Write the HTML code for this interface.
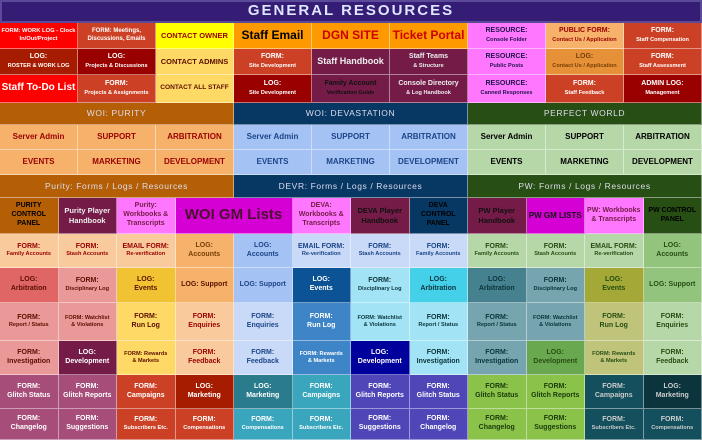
<!DOCTYPE html>
<html><head><meta charset="utf-8"><style>
body{margin:0;width:702px;height:440px;overflow:hidden;background:#3b2a6e;font-family:"Liberation Sans",sans-serif;}
.c{position:absolute;display:flex;align-items:center;justify-content:center;flex-direction:column;text-align:center;box-sizing:border-box;border-right:1px solid rgba(255,255,255,.45);border-bottom:1px solid rgba(255,255,255,.45);font-weight:bold;font-size:7px;line-height:1.25;color:#fff;overflow:hidden}
.c small{font-size:5.6px}
.h{font-weight:normal;color:#dde;font-size:8.5px;letter-spacing:.6px}
.w{width:78px}.t1{top:23px;height:26px}.t2{top:49px;height:26px}.t3{top:75px;height:28px}
.g{width:58.5px}
.r0{top:198px;height:36px}.r1{top:234px;height:34px}.r2{top:268px;height:35px}.r3{top:303px;height:38px}.r4{top:341px;height:34px}.r5{top:375px;height:34px}.r6{top:409px;height:31px}
</style></head><body>
<div class="c" style="left:0;top:0;width:702px;height:23px;background:#351c75;border:2px solid #5b4a9a;font-size:15px;color:#dfe6ff;letter-spacing:2px;font-weight:bold">GENERAL RESOURCES</div>

<div class="c w t1" style="left:0;background:#ff0000;font-size:5.8px"><span>FORM: WORK LOG - Clock<br>In/Out/Project</span></div>
<div class="c w t2" style="left:0;background:#a61c00"><span>LOG:<br><small>ROSTER &amp; WORK LOG</small></span></div>
<div class="c w t3" style="left:0;background:#ff0000;font-size:10px">Staff To-Do List</div>
<div class="c w t1" style="left:78px;background:#cc4125;font-size:6px">FORM: Meetings,<br>Discussions, Emails</div>
<div class="c w t2" style="left:78px;background:#990000"><span>LOG:<br><small>Projects &amp; Discussions</small></span></div>
<div class="c w t3" style="left:78px;background:#cc4125"><span>FORM:<br><small>Projects &amp; Assignments</small></span></div>
<div class="c w t1" style="left:156px;background:#ffff00;color:#990000;font-size:7.5px">CONTACT OWNER</div>
<div class="c w t2" style="left:156px;background:#ffd966;color:#5b0f00;font-size:7.5px">CONTACT ADMINS</div>
<div class="c w t3" style="left:156px;background:#ffd966;color:#5b0f00;font-size:6.6px">CONTACT ALL STAFF</div>
<div class="c w t1" style="left:234px;background:#ff9900;color:#000;font-size:12px">Staff Email</div>
<div class="c w t2" style="left:234px;background:#cc4125"><span>FORM:<br><small>Site Development</small></span></div>
<div class="c w t3" style="left:234px;background:#990000"><span>LOG:<br><small>Site Development</small></span></div>
<div class="c w t1" style="left:312px;background:#ff9900;color:#cc0000;font-size:12px">DGN SITE</div>
<div class="c w t2" style="left:312px;background:#741b47;color:#eee;font-size:9px">Staff Handbook</div>
<div class="c w t3" style="left:312px;background:#741b47;color:#111"><span>Family Account<br><small>Verification Guide</small></span></div>
<div class="c w t1" style="left:390px;background:#ff9900;color:#cc0000;font-size:12px">Ticket Portal</div>
<div class="c w t2" style="left:390px;background:#741b47;color:#eee"><span>Staff Teams<br><small>&amp; Structure</small></span></div>
<div class="c w t3" style="left:390px;background:#741b47;color:#eee"><span>Console Directory<br><small>&amp; Log Handbook</small></span></div>
<div class="c w t1" style="left:468px;background:#ff77ff;color:#20124d"><span>RESOURCE:<br><small>Console Folder</small></span></div>
<div class="c w t2" style="left:468px;background:#ff77ff;color:#20124d"><span>RESOURCE:<br><small>Public Posts</small></span></div>
<div class="c w t3" style="left:468px;background:#ff77ff;color:#20124d"><span>RESOURCE:<br><small>Canned Responses</small></span></div>
<div class="c w t1" style="left:546px;background:#f6b26b;color:#990000"><span>PUBLIC FORM:<br><small>Contact Us / Application</small></span></div>
<div class="c w t2" style="left:546px;background:#e69138;color:#783f04"><span>LOG:<br><small>Contact Us / Application</small></span></div>
<div class="c w t3" style="left:546px;background:#cc4125"><span>FORM:<br><small>Staff Feedback</small></span></div>
<div class="c w t1" style="left:624px;background:#cc4125"><span>FORM:<br><small>Staff Compensation</small></span></div>
<div class="c w t2" style="left:624px;background:#cc4125"><span>FORM:<br><small>Staff Assessment</small></span></div>
<div class="c w t3" style="left:624px;background:#990000"><span>ADMIN LOG:<br><small>Management</small></span></div>

<div class="c h" style="left:0;top:103px;width:234px;height:22px;background:#b45f06">WOI: PURITY</div>
<div class="c h" style="left:234px;top:103px;width:234px;height:22px;background:#073763">WOI: DEVASTATION</div>
<div class="c h" style="left:468px;top:103px;width:234px;height:22px;background:#274e13">PERFECT WORLD</div>

<div class="c w" style="left:0;top:125px;height:25px;background:#f6b26b;color:#990000;font-size:8px">Server Admin</div>
<div class="c w" style="left:78px;top:125px;height:25px;background:#f6b26b;color:#990000;font-size:8px">SUPPORT</div>
<div class="c w" style="left:156px;top:125px;height:25px;background:#f6b26b;color:#990000;font-size:8px">ARBITRATION</div>
<div class="c w" style="left:0;top:150px;height:25px;background:#f6b26b;color:#990000;font-size:8px">EVENTS</div>
<div class="c w" style="left:78px;top:150px;height:25px;background:#f6b26b;color:#990000;font-size:8px">MARKETING</div>
<div class="c w" style="left:156px;top:150px;height:25px;background:#f6b26b;color:#990000;font-size:8px">DEVELOPMENT</div>
<div class="c w" style="left:234px;top:125px;height:25px;background:#a4c2f4;color:#1c4587;font-size:8px">Server Admin</div>
<div class="c w" style="left:312px;top:125px;height:25px;background:#a4c2f4;color:#1c4587;font-size:8px">SUPPORT</div>
<div class="c w" style="left:390px;top:125px;height:25px;background:#a4c2f4;color:#1c4587;font-size:8px">ARBITRATION</div>
<div class="c w" style="left:234px;top:150px;height:25px;background:#a4c2f4;color:#1c4587;font-size:8px">EVENTS</div>
<div class="c w" style="left:312px;top:150px;height:25px;background:#a4c2f4;color:#1c4587;font-size:8px">MARKETING</div>
<div class="c w" style="left:390px;top:150px;height:25px;background:#a4c2f4;color:#1c4587;font-size:8px">DEVELOPMENT</div>
<div class="c w" style="left:468px;top:125px;height:25px;background:#b6d7a8;color:#000;font-size:8px">Server Admin</div>
<div class="c w" style="left:546px;top:125px;height:25px;background:#b6d7a8;color:#000;font-size:8px">SUPPORT</div>
<div class="c w" style="left:624px;top:125px;height:25px;background:#b6d7a8;color:#000;font-size:8px">ARBITRATION</div>
<div class="c w" style="left:468px;top:150px;height:25px;background:#b6d7a8;color:#000;font-size:8px">EVENTS</div>
<div class="c w" style="left:546px;top:150px;height:25px;background:#b6d7a8;color:#000;font-size:8px">MARKETING</div>
<div class="c w" style="left:624px;top:150px;height:25px;background:#b6d7a8;color:#000;font-size:8px">DEVELOPMENT</div>

<div class="c h" style="left:0;top:175px;width:234px;height:23px;background:#b45f06">Purity: Forms / Logs / Resources</div>
<div class="c h" style="left:234px;top:175px;width:234px;height:23px;background:#073763">DEVR: Forms / Logs / Resources</div>
<div class="c h" style="left:468px;top:175px;width:234px;height:23px;background:#274e13">PW: Forms / Logs / Resources</div>

<div class="c g r0" style="left:0;background:#b45f06;color:#000">PURITY<br>CONTROL<br>PANEL</div>
<div class="c g r0" style="left:58.5px;background:#741b47;color:#eee;font-size:7.5px">Purity Player<br>Handbook</div>
<div class="c g r0" style="left:117px;background:#ff77ff;color:#741b47">Purity:<br>Workbooks &amp;<br>Transcripts</div>
<div class="c r0" style="left:175.5px;width:117px;background:#d400d4;color:#4c1130;font-size:15px">WOI GM Lists</div>
<div class="c g r0" style="left:292.5px;background:#ff77ff;color:#741b47">DEVA:<br>Workbooks &amp;<br>Transcripts</div>
<div class="c g r0" style="left:351px;background:#741b47;color:#111;font-size:7.5px">DEVA Player<br>Handbook</div>
<div class="c g r0" style="left:409.5px;background:#073763;color:#000">DEVA<br>CONTROL<br>PANEL</div>
<div class="c g r0" style="left:468px;background:#741b47;color:#111;font-size:7.5px">PW Player<br>Handbook</div>
<div class="c g r0" style="left:526.5px;background:#d400d4;color:#111;font-size:8px">PW GM LISTS</div>
<div class="c g r0" style="left:585px;background:#ff77ff;color:#741b47">PW: Workbooks<br>&amp; Transcripts</div>
<div class="c g r0" style="left:643.5px;background:#274e13;color:#000">PW CONTROL<br>PANEL</div>

<div class="c g r1" style="left:0;background:#f9cb9c;color:#990000">FORM:<br><small>Family Accounts</small></div>
<div class="c g r1" style="left:58.5px;background:#f9cb9c;color:#990000">FORM:<br><small>Stash Accounts</small></div>
<div class="c g r1" style="left:117px;background:#f9cb9c;color:#990000">EMAIL FORM:<br><small>Re-verification</small></div>
<div class="c g r1" style="left:175.5px;background:#f6b26b;color:#783f04">LOG:<br>Accounts</div>
<div class="c g r1" style="left:234px;background:#a4c2f4;color:#1c4587">LOG:<br>Accounts</div>
<div class="c g r1" style="left:292.5px;background:#c9daf8;color:#1c4587">EMAIL FORM:<br><small>Re-verification</small></div>
<div class="c g r1" style="left:351px;background:#c9daf8;color:#1c4587">FORM:<br><small>Stash Accounts</small></div>
<div class="c g r1" style="left:409.5px;background:#c9daf8;color:#1c4587">FORM:<br><small>Family Accounts</small></div>
<div class="c g r1" style="left:468px;background:#b6d7a8;color:#274e13">FORM:<br><small>Family Accounts</small></div>
<div class="c g r1" style="left:526.5px;background:#b6d7a8;color:#274e13">FORM:<br><small>Stash Accounts</small></div>
<div class="c g r1" style="left:585px;background:#b6d7a8;color:#274e13">EMAIL FORM:<br><small>Re-verification</small></div>
<div class="c g r1" style="left:643.5px;background:#93c47d;color:#274e13">LOG:<br>Accounts</div>

<div class="c g r2" style="left:0;background:#e06666;color:#5b0f00">LOG:<br>Arbitration</div>
<div class="c g r2" style="left:58.5px;background:#ea9999;color:#5b0f00">FORM:<br><small>Disciplinary Log</small></div>
<div class="c g r2" style="left:117px;background:#f1c232;color:#5b0f00">LOG:<br>Events</div>
<div class="c g r2" style="left:175.5px;background:#f6b26b;color:#5b0f00">LOG: Support</div>
<div class="c g r2" style="left:234px;background:#a4c2f4;color:#1c4587">LOG: Support</div>
<div class="c g r2" style="left:292.5px;background:#0b5394">LOG:<br>Events</div>
<div class="c g r2" style="left:351px;background:#a2e4f5;color:#0c343d">FORM:<br><small>Disciplinary Log</small></div>
<div class="c g r2" style="left:409.5px;background:#45d0ea;color:#0c343d">LOG:<br>Arbitration</div>
<div class="c g r2" style="left:468px;background:#45818e;color:#0c343d">LOG:<br>Arbitration</div>
<div class="c g r2" style="left:526.5px;background:#76a5af;color:#0c343d">FORM:<br><small>Disciplinary Log</small></div>
<div class="c g r2" style="left:585px;background:#a3a837;color:#274e13">LOG:<br>Events</div>
<div class="c g r2" style="left:643.5px;background:#93c47d;color:#274e13">LOG: Support</div>

<div class="c g r3" style="left:0;background:#ea9999;color:#5b0f00">FORM:<br><small>Report / Status</small></div>
<div class="c g r3" style="left:58.5px;background:#ea9999;color:#5b0f00"><small>FORM: Watchlist<br>&amp; Violations</small></div>
<div class="c g r3" style="left:117px;background:#ffd966;color:#5b0f00">FORM:<br>Run Log</div>
<div class="c g r3" style="left:175.5px;background:#f9cb9c;color:#990000">FORM:<br>Enquiries</div>
<div class="c g r3" style="left:234px;background:#c9daf8;color:#1c4587">FORM:<br>Enquiries</div>
<div class="c g r3" style="left:292.5px;background:#3d85c6">FORM:<br>Run Log</div>
<div class="c g r3" style="left:351px;background:#a2e4f5;color:#0c343d"><small>FORM: Watchlist<br>&amp; Violations</small></div>
<div class="c g r3" style="left:409.5px;background:#a2e4f5;color:#0c343d">FORM:<br><small>Report / Status</small></div>
<div class="c g r3" style="left:468px;background:#76a5af;color:#0c343d">FORM:<br><small>Report / Status</small></div>
<div class="c g r3" style="left:526.5px;background:#76a5af;color:#0c343d"><small>FORM: Watchlist<br>&amp; Violations</small></div>
<div class="c g r3" style="left:585px;background:#c0c47a;color:#274e13">FORM:<br>Run Log</div>
<div class="c g r3" style="left:643.5px;background:#b6d7a8;color:#274e13">FORM:<br>Enquiries</div>

<div class="c g r4" style="left:0;background:#ea9999;color:#5b0f00">FORM:<br>Investigation</div>
<div class="c g r4" style="left:58.5px;background:#741b47">LOG:<br>Development</div>
<div class="c g r4" style="left:117px;background:#ffd966;color:#5b0f00"><small>FORM: Rewards<br>&amp; Markets</small></div>
<div class="c g r4" style="left:175.5px;background:#f9cb9c;color:#990000">FORM:<br>Feedback</div>
<div class="c g r4" style="left:234px;background:#c9daf8;color:#1c4587">FORM:<br>Feedback</div>
<div class="c g r4" style="left:292.5px;background:#3d85c6"><small>FORM: Rewards<br>&amp; Markets</small></div>
<div class="c g r4" style="left:351px;background:#00009c">LOG:<br>Development</div>
<div class="c g r4" style="left:409.5px;background:#a2e4f5;color:#0c343d">FORM:<br>Investigation</div>
<div class="c g r4" style="left:468px;background:#76a5af;color:#0c343d">FORM:<br>Investigation</div>
<div class="c g r4" style="left:526.5px;background:#6aa84f;color:#274e13">LOG:<br>Development</div>
<div class="c g r4" style="left:585px;background:#c0c47a;color:#274e13"><small>FORM: Rewards<br>&amp; Markets</small></div>
<div class="c g r4" style="left:643.5px;background:#b6d7a8;color:#274e13">FORM:<br>Feedback</div>

<div class="c g r5" style="left:0;background:#a64d79">FORM:<br>Glitch Status</div>
<div class="c g r5" style="left:58.5px;background:#a64d79">FORM:<br>Glitch Reports</div>
<div class="c g r5" style="left:117px;background:#cc4125">FORM:<br>Campaigns</div>
<div class="c g r5" style="left:175.5px;background:#a61c00">LOG:<br>Marketing</div>
<div class="c g r5" style="left:234px;background:#2a7b8b">LOG:<br>Marketing</div>
<div class="c g r5" style="left:292.5px;background:#3aa6bd">FORM:<br>Campaigns</div>
<div class="c g r5" style="left:351px;background:#4f46b8">FORM:<br>Glitch Reports</div>
<div class="c g r5" style="left:409.5px;background:#4f46b8">FORM:<br>Glitch Status</div>
<div class="c g r5" style="left:468px;background:#8bc34a;color:#1a3a0a">FORM:<br>Glitch Status</div>
<div class="c g r5" style="left:526.5px;background:#8bc34a;color:#1a3a0a">FORM:<br>Glitch Reports</div>
<div class="c g r5" style="left:585px;background:#134f5c;color:#ccc">FORM:<br>Campaigns</div>
<div class="c g r5" style="left:643.5px;background:#0c343d;color:#ccc">LOG:<br>Marketing</div>

<div class="c g r6" style="left:0;background:#a64d79">FORM:<br>Changelog</div>
<div class="c g r6" style="left:58.5px;background:#a64d79">FORM:<br>Suggestions</div>
<div class="c g r6" style="left:117px;background:#cc4125">FORM:<br><small>Subscribers Etc.</small></div>
<div class="c g r6" style="left:175.5px;background:#cc4125">FORM:<br><small>Compensations</small></div>
<div class="c g r6" style="left:234px;background:#3aa6bd">FORM:<br><small>Compensations</small></div>
<div class="c g r6" style="left:292.5px;background:#3aa6bd">FORM:<br><small>Subscribers Etc.</small></div>
<div class="c g r6" style="left:351px;background:#4f46b8">FORM:<br>Suggestions</div>
<div class="c g r6" style="left:409.5px;background:#4f46b8">FORM:<br>Changelog</div>
<div class="c g r6" style="left:468px;background:#8bc34a;color:#1a3a0a">FORM:<br>Changelog</div>
<div class="c g r6" style="left:526.5px;background:#8bc34a;color:#1a3a0a">FORM:<br>Suggestions</div>
<div class="c g r6" style="left:585px;background:#134f5c;color:#ccc">FORM:<br><small>Subscribers Etc.</small></div>
<div class="c g r6" style="left:643.5px;background:#134f5c;color:#ccc">FORM:<br><small>Compensations</small></div>
</body></html>
